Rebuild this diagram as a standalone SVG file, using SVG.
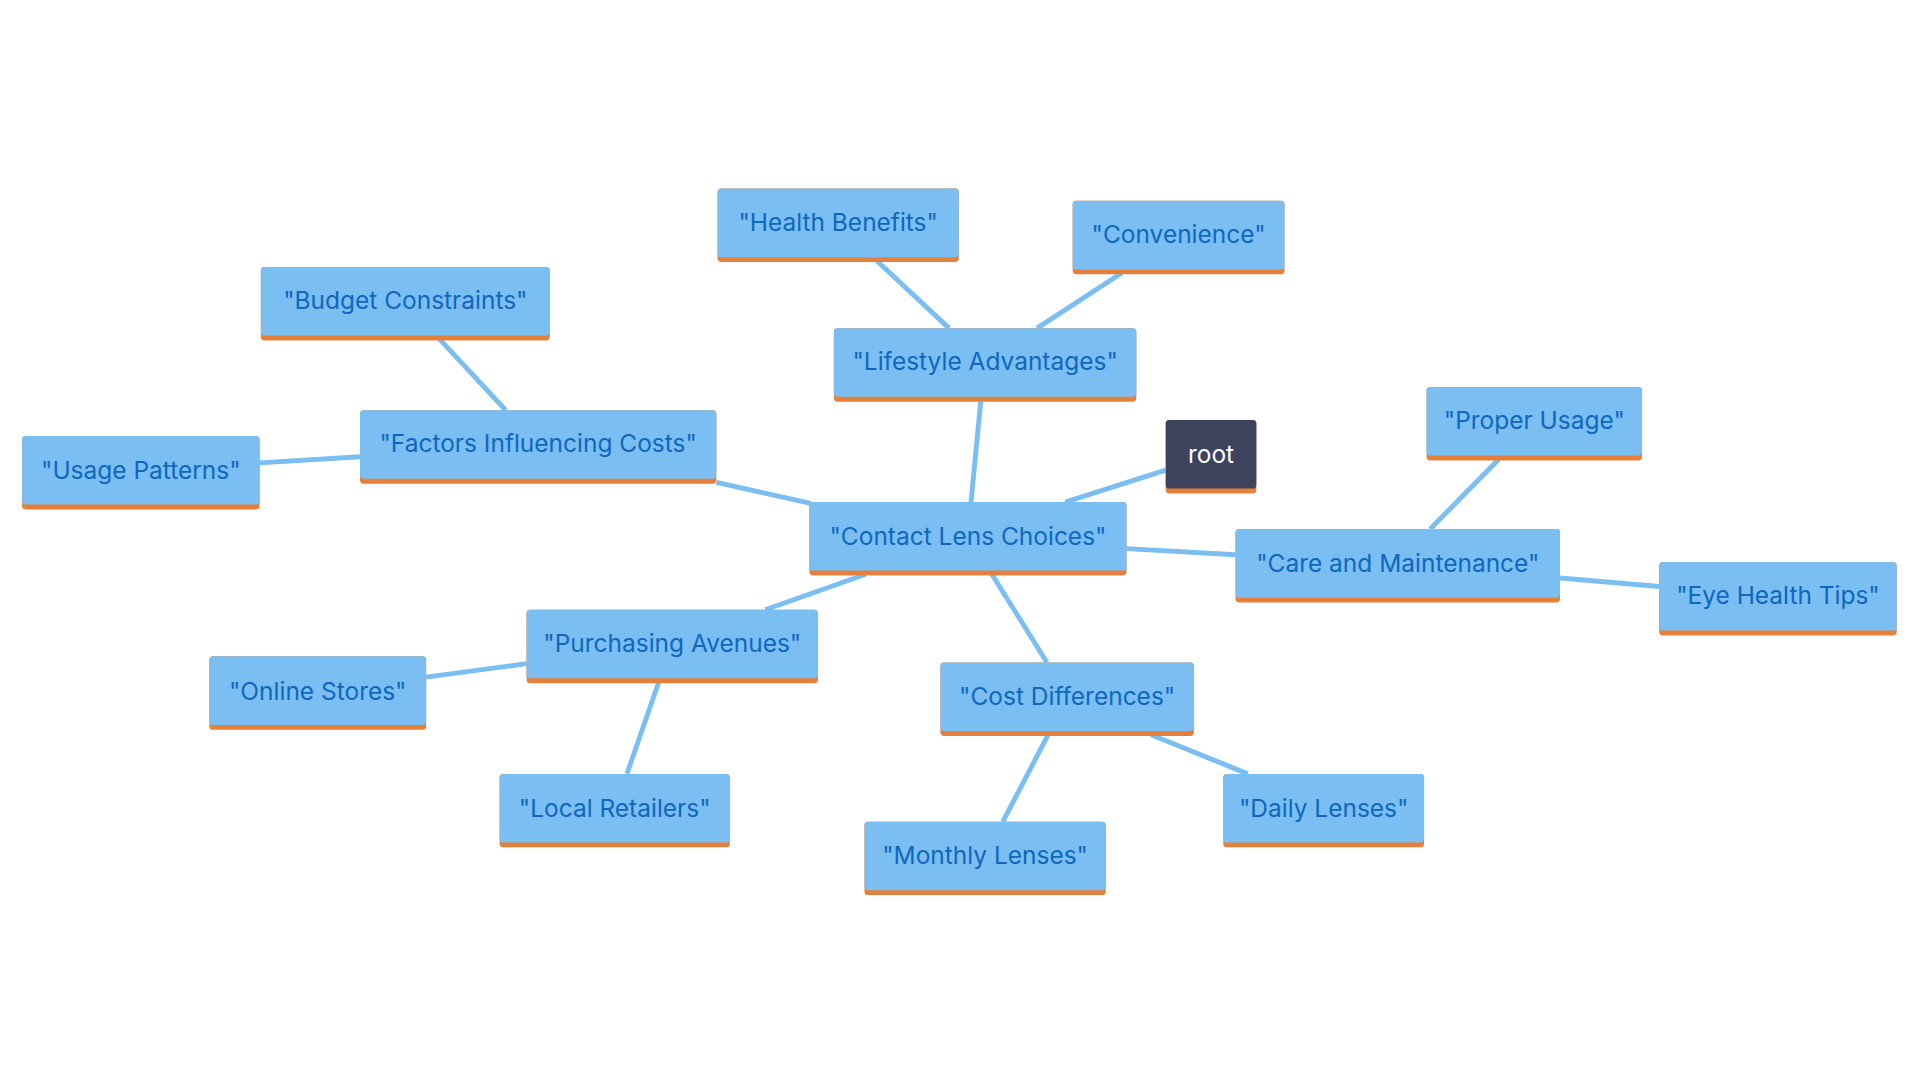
<svg xmlns="http://www.w3.org/2000/svg" width="1920" height="1080" viewBox="0 0 1920 1080">
<style>
.n rect.b{fill:#7bbef1}
.n rect.u{fill:#e5803a}
.n text{font-family:Inter,"Noto Sans",sans-serif;font-size:20px;fill:#0f67c0;text-anchor:middle;dominant-baseline:central}
#root rect.b{fill:#3e435d}
#root text{fill:#ffffff}
#edges line{stroke:#7bbef1;stroke-width:4}
</style>
<rect width="1920" height="1080" fill="#ffffff"/>
<g transform="scale(1.2245)">
<g id="edges">
<line x1="870" y1="410" x2="952" y2="384"/>
<line x1="793" y1="410" x2="801" y2="327"/>
<line x1="775" y1="268" x2="716" y2="213"/>
<line x1="847" y1="268" x2="916" y2="223"/>
<line x1="662" y1="411" x2="585" y2="394"/>
<line x1="413" y1="335" x2="359" y2="277"/>
<line x1="294" y1="373" x2="212" y2="378"/>
<line x1="920" y1="448" x2="1009" y2="453"/>
<line x1="1168" y1="432" x2="1224" y2="375"/>
<line x1="1274" y1="472" x2="1355" y2="479"/>
<line x1="707" y1="469" x2="625" y2="498"/>
<line x1="430" y1="542" x2="348" y2="553"/>
<line x1="538" y1="557" x2="512" y2="632"/>
<line x1="810" y1="469" x2="855" y2="541"/>
<line x1="856" y1="600" x2="819" y2="671"/>
<line x1="940" y1="600" x2="1019" y2="632"/>
</g>
<g id="root" class="n"><rect class="u" x="952" y="343" width="74" height="60" rx="3"/><rect class="b" x="952" y="343" width="74" height="56" rx="3"/><text x="989" y="371">root</text></g>
<g id="center" class="n"><rect class="u" x="661" y="410" width="259" height="60" rx="3"/><rect class="b" x="661" y="410" width="259" height="56" rx="3"/><text x="790.5" y="438">"Contact Lens Choices"</text></g>
<g id="lifestyle" class="n"><rect class="u" x="681" y="268" width="247" height="60" rx="3"/><rect class="b" x="681" y="268" width="247" height="56" rx="3"/><text x="804.5" y="295">"Lifestyle Advantages"</text></g>
<g id="health" class="n"><rect class="u" x="586" y="154" width="197" height="60" rx="3"/><rect class="b" x="586" y="154" width="197" height="56" rx="3"/><text x="684.5" y="181">"Health Benefits"</text></g>
<g id="conv" class="n"><rect class="u" x="876" y="164" width="173" height="60" rx="3"/><rect class="b" x="876" y="164" width="173" height="56" rx="3"/><text x="962.5" y="191">"Convenience"</text></g>
<g id="factors" class="n"><rect class="u" x="294" y="335" width="291" height="60" rx="3"/><rect class="b" x="294" y="335" width="291" height="56" rx="3"/><text x="439.5" y="362">"Factors Influencing Costs"</text></g>
<g id="budget" class="n"><rect class="u" x="213" y="218" width="236" height="60" rx="3"/><rect class="b" x="213" y="218" width="236" height="56" rx="3"/><text x="331" y="245">"Budget Constraints"</text></g>
<g id="usage" class="n"><rect class="u" x="18" y="356" width="194" height="60" rx="3"/><rect class="b" x="18" y="356" width="194" height="56" rx="3"/><text x="115" y="384">"Usage Patterns"</text></g>
<g id="care" class="n"><rect class="u" x="1009" y="432" width="265" height="60" rx="3"/><rect class="b" x="1009" y="432" width="265" height="56" rx="3"/><text x="1141.5" y="460">"Care and Maintenance"</text></g>
<g id="proper" class="n"><rect class="u" x="1165" y="316" width="176" height="60" rx="3"/><rect class="b" x="1165" y="316" width="176" height="56" rx="3"/><text x="1253" y="343">"Proper Usage"</text></g>
<g id="eye" class="n"><rect class="u" x="1355" y="459" width="194" height="60" rx="3"/><rect class="b" x="1355" y="459" width="194" height="56" rx="3"/><text x="1452" y="486">"Eye Health Tips"</text></g>
<g id="purch" class="n"><rect class="u" x="430" y="498" width="238" height="60" rx="3"/><rect class="b" x="430" y="498" width="238" height="56" rx="3"/><text x="549" y="525">"Purchasing Avenues"</text></g>
<g id="online" class="n"><rect class="u" x="171" y="536" width="177" height="60" rx="3"/><rect class="b" x="171" y="536" width="177" height="56" rx="3"/><text x="259.5" y="564">"Online Stores"</text></g>
<g id="local" class="n"><rect class="u" x="408" y="632" width="188" height="60" rx="3"/><rect class="b" x="408" y="632" width="188" height="56" rx="3"/><text x="502" y="660">"Local Retailers"</text></g>
<g id="cost" class="n"><rect class="u" x="768" y="541" width="207" height="60" rx="3"/><rect class="b" x="768" y="541" width="207" height="56" rx="3"/><text x="871.5" y="568">"Cost Differences"</text></g>
<g id="monthly" class="n"><rect class="u" x="706" y="671" width="197" height="60" rx="3"/><rect class="b" x="706" y="671" width="197" height="56" rx="3"/><text x="804.5" y="698">"Monthly Lenses"</text></g>
<g id="daily" class="n"><rect class="u" x="999" y="632" width="164" height="60" rx="3"/><rect class="b" x="999" y="632" width="164" height="56" rx="3"/><text x="1081" y="660">"Daily Lenses"</text></g>
</g>
</svg>
